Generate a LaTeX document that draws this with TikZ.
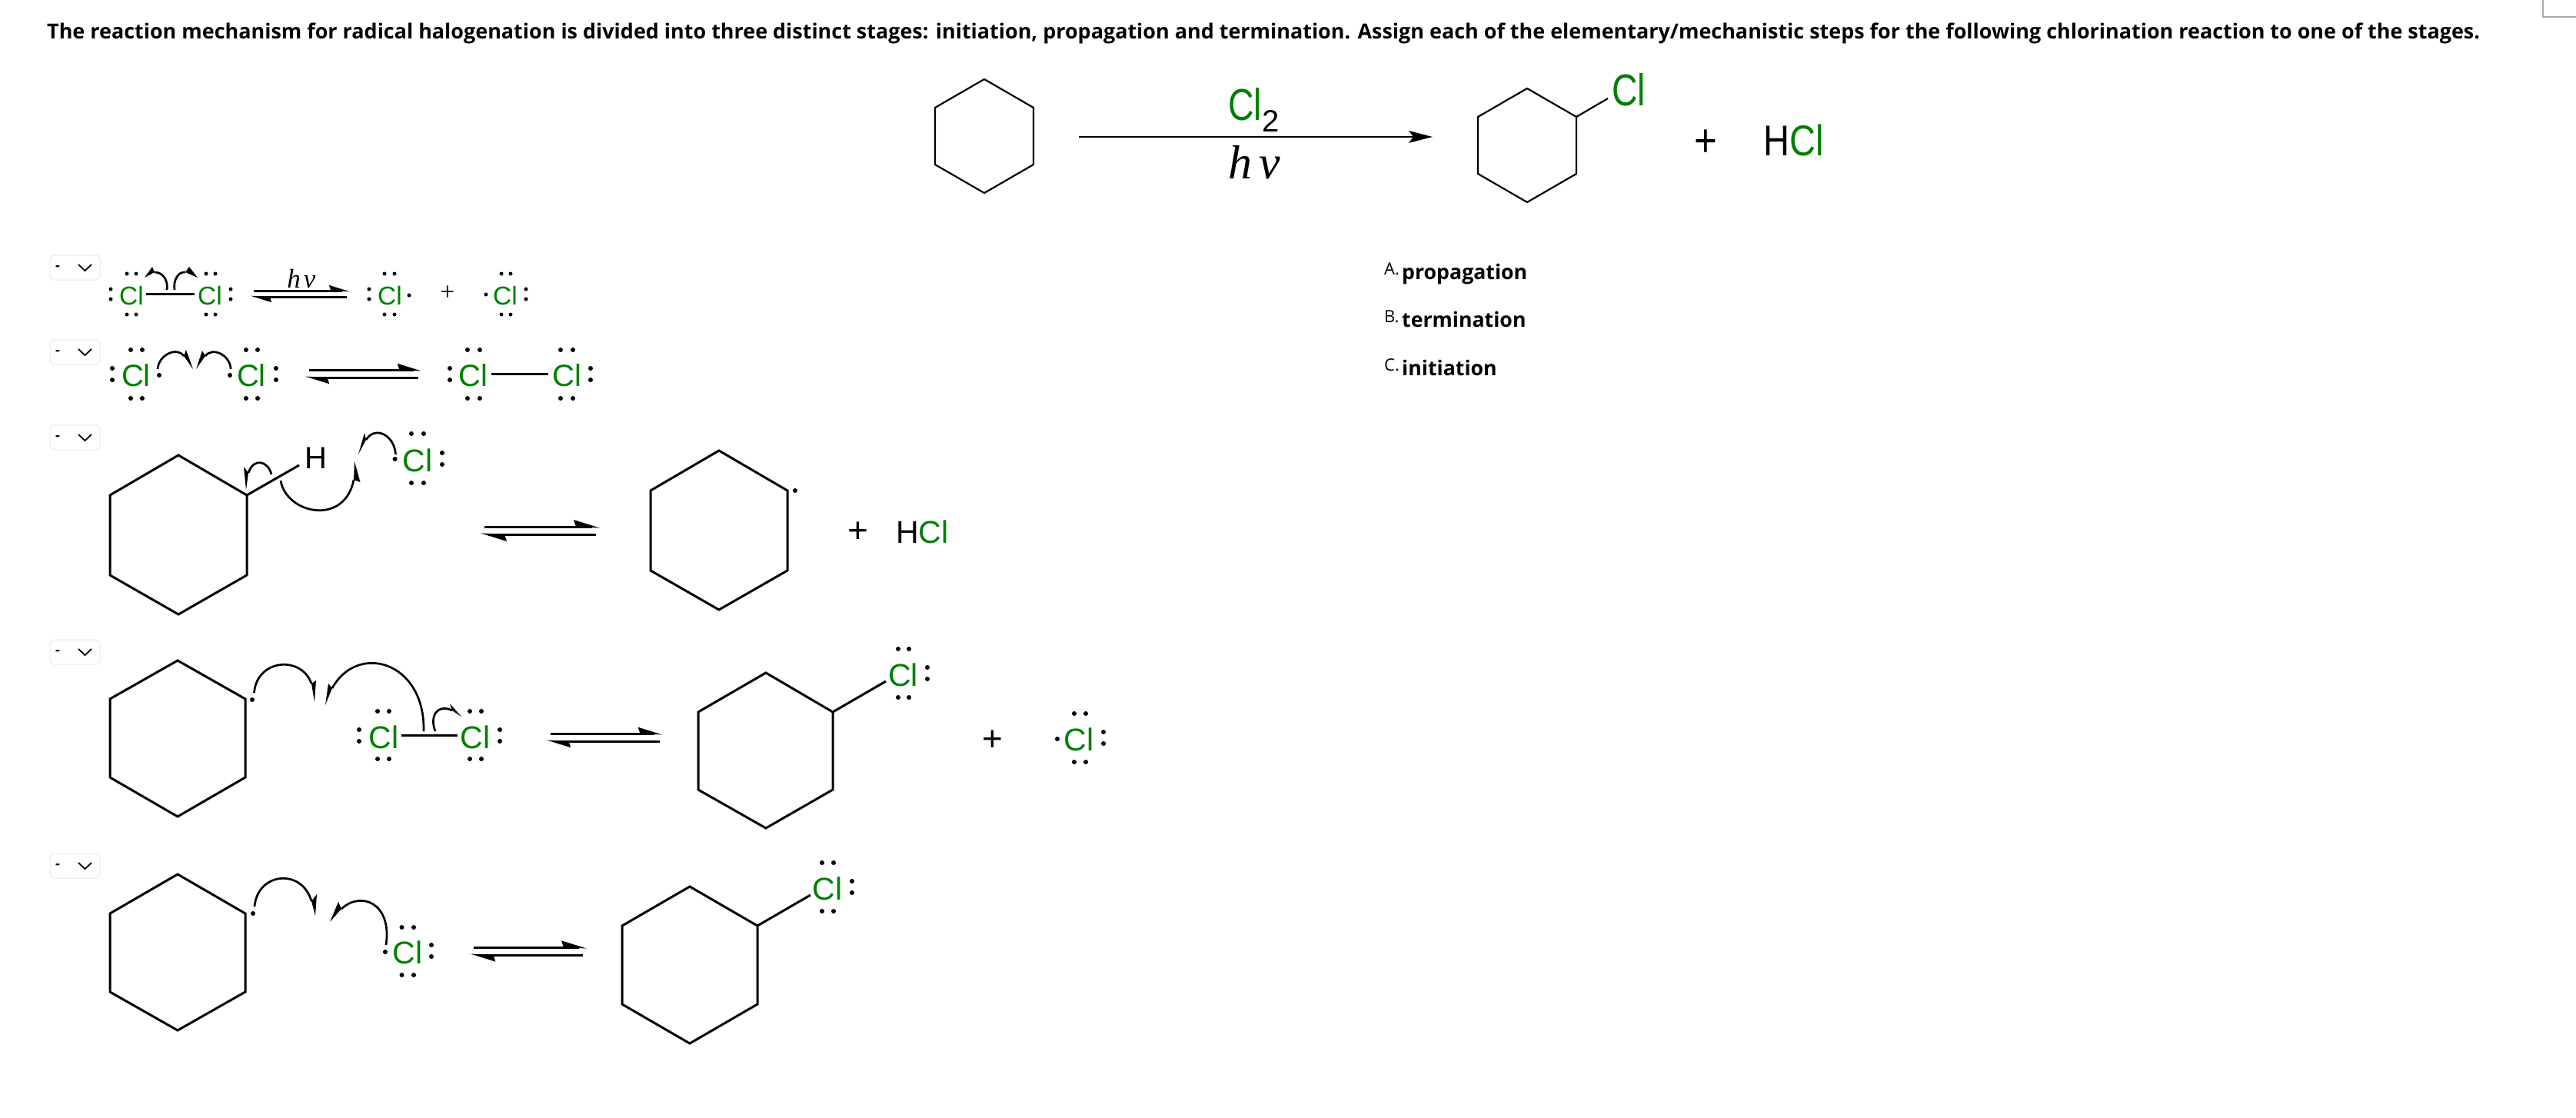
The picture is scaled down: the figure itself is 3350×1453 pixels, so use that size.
\documentclass[tikz,border=0pt]{standalone}
\usepackage{fontspec}
\setmainfont{Liberation Sans}
\newfontfamily\opensans{Open Sans}
\newfontfamily\timesit{Liberation Serif}
\definecolor{chem}{RGB}{0,128,0}
\definecolor{ddline}{RGB}{232,232,232}
\definecolor{cornerline}{RGB}{170,170,170}
\newcommand{\fsz}[1]{\fontsize{#1}{#1}\selectfont}
\tikzset{
  atomtext/.style={anchor=base,inner sep=0pt,text=chem},
  plaintext/.style={anchor=base west,inner sep=0pt,text=black},
  ringline/.style={draw=black,line width=3pt,line join=miter},
  ringthin/.style={draw=black,line width=2.2pt,line join=miter},
  bondline/.style={draw=black,line width=3pt},
  curlyline/.style={draw=black,line width=2.7pt},
  eqline/.style={draw=black,line width=3pt},
  ddbox/.style={draw=ddline,line width=1pt,rounded corners=6pt,minimum width=65pt,minimum height=32pt,inner sep=0pt},
  ddmark/.style={draw=black,line width=1.8pt}
}
% Cl atom: name, x centre, baseline, font size
\newcommand{\clatom}[4]{\node[atomtext] (#1) at (#2,#3) {\fsz{#4}Cl};}
% electron dots: radius, list of points
\newcommand{\eldots}[2]{\foreach \p in {#2} \fill[black] \p circle (#1);}
% ring: style, name, then six vertices
\newcommand{\ring}[8]{%
  \coordinate (#2-t) at #3; \coordinate (#2-ur) at #4; \coordinate (#2-lr) at #5;
  \coordinate (#2-b) at #6; \coordinate (#2-ll) at #7; \coordinate (#2-ul) at #8;
  \draw[#1] (#2-t)--(#2-ur)--(#2-lr)--(#2-b)--(#2-ll)--(#2-ul)--cycle;}
% equilibrium: name, top x1 x2 y, bottom x1 x2 y, head scale
\newcommand{\eqarrow}[8]{%
  \coordinate (#1-a) at (#2,#4); \coordinate (#1-b) at (#3,#4);
  \coordinate (#1-c) at (#6,#7); \coordinate (#1-d) at (#5,#7);
  \draw[eqline] (#1-a) -- ([xshift=-10pt]#1-b);
  \draw[eqline] (#1-c) -- ([xshift=10pt]#1-d);
  \fill[black,shift={(#1-b)},scale=#8] (0,1.6)--(-34,-9)--(-31,0)--cycle;
  \fill[black,shift={(#1-d)},scale=#8] (0,-1.6)--(34,9)--(31,0)--cycle;}
% fishhook: name, start, c1, c2, notch, barb, tip
\newcommand{\fishhook}[7]{%
  \coordinate (#1-s) at #2; \coordinate (#1-n) at #5;
  \coordinate (#1-h) at #6; \coordinate (#1-t) at #7;
  \draw[curlyline] (#1-s) .. controls #3 and #4 .. (#1-n);
  \fill[black] (#1-t)--(#1-h)--(#1-n)--cycle;}
% dropdown: name, top y
\newcommand{\dropdown}[2]{%
  \node[ddbox] (#1) at (97.5,#2+16) {};
  \node[plaintext,anchor=center] (#1-dash) at (75,#2+17) {\opensans\bfseries\fsz{18}-};
  \coordinate (#1-l) at (102,#2+12); \coordinate (#1-m) at (110.5,#2+20); \coordinate (#1-r) at (119,#2+12);
  \draw[ddmark] (#1-l)--(#1-m)--(#1-r);}
\begin{document}
\begin{tikzpicture}[x=1pt,y=-1pt]
\useasboundingbox (0,0) rectangle (3350,1453);
\fill[white] (0,0) rectangle (3350,1453);

% corner box
\coordinate (ca) at (3307,0); \coordinate (cb) at (3307,22); \coordinate (cc) at (3350,22);
\draw[cornerline,line width=1.5pt] (ca)--(cb)--(cc);

% title
\node[plaintext] (title) at (61,51) {\opensans\bfseries\fsz{26.94}The reaction mechanism for radical halogenation is divided into three distinct stages: initiation, propagation and termination. Assign each of the elementary/mechanistic steps for the following chlorination reaction to one of the stages.};

% overall reaction
\ring{ringthin}{top1}{(1280,103)}{(1344,140)}{(1344,214)}{(1280,251)}{(1216,214)}{(1216,140)}
\coordinate (ov-a) at (1403,178); \coordinate (ov-b) at (1863,178);
\draw[eqline,line width=2.7pt] (ov-a) -- ([xshift=-25pt]ov-b);
\fill[black,shift={(ov-b)}] (0,0)--(-31,-8)--(-25,0)--(-31,8)--cycle;
\node[plaintext,text=chem] (ovcl) at (1597,156) {\fsz{58}\scalebox{.8}[1]{Cl}\raisebox{-16pt}{\color{black}\fsz{40}2}};
\node[plaintext,anchor=base] (ovhv) at (1631,232) {\timesit\itshape\fsz{62}h\kern9ptν};
\ring{ringthin}{top2}{(1986,115)}{(2050,152)}{(2050,226)}{(1986,263)}{(1922,226)}{(1922,152)}
\coordinate (topb) at (2091,128);
\draw[ringthin] (top2-ur)--(topb);
\node[atomtext] (topcl) at (2118,138) {\fsz{58}\scalebox{.8}[1]{Cl}};
\node[plaintext,anchor=base] (topplus) at (2218,203) {\fsz{60}\scalebox{.85}[1]{+}};
\node[plaintext] (tophcl) at (2293,202) {\fsz{56}\scalebox{.84}[1]{H\textcolor{chem}{Cl}}};

% options
\node[plaintext] (la) at (1800,357) {\opensans\fsz{22}A.};
\node[plaintext] (oa) at (1823,363) {\opensans\bfseries\fsz{26.7}propagation};
\node[plaintext] (lb) at (1800,419) {\opensans\fsz{22}B.};
\node[plaintext] (ob) at (1823,425) {\opensans\bfseries\fsz{26.7}termination};
\node[plaintext] (lc) at (1800,482) {\opensans\fsz{22}C.};
\node[plaintext] (oc) at (1823,488) {\opensans\bfseries\fsz{26.7}initiation};

% dropdowns
\dropdown{dd1}{332}
\dropdown{dd2}{442}
\dropdown{dd3}{553}
\dropdown{dd4}{832}
\dropdown{dd5}{1110}

% ---------- row 1
\clatom{r1a}{171}{396}{33.5}
\clatom{r1b}{273}{396}{33.5}
\coordinate (r1ba) at (190,382); \coordinate (r1bb) at (253,382);
\draw[bondline] (r1ba)--(r1bb);
\eldots{2.5}{(144,376),(144,389),(165,356),(177,356),(165,409),(177,409),(268,356),(280,356),(268,409),(280,409),(300,376),(300,389)}
\fishhook{r1f}{(217,377)}{(219,365)}{(212,354)}{(201,354)}{(198,347)}{(188,361)}
\fishhook{r1g}{(227,377)}{(225,364)}{(232,353)}{(241,354)}{(246,347)}{(257,361)}
\eqarrow{r1e}{330}{455}{378}{326}{451}{386}{.8}
\node[plaintext,anchor=base] (r1hv) at (392,374) {\timesit\itshape\fsz{35}h\kern4ptν};
\clatom{r1c}{507}{396}{33.5}
\eldots{2.5}{(480,376),(480,389),(500,356),(513,356),(500,409),(513,409),(532,384)}
\node[plaintext,anchor=base] (r1p) at (582,390) {\timesit\fsz{33}+};
\clatom{r1d}{657}{396}{33.5}
\eldots{2.5}{(632,383),(652,356),(664,356),(652,409),(664,409),(684,376),(684,389)}

% ---------- row 2
\clatom{r2a}{177}{502}{40}
\clatom{r2b}{327}{502}{40}
\eldots{3}{(146,479),(146,494),(170,455),(185,455),(170,518),(185,518),(207,488),(299,488),(320,455),(335,455),(320,518),(335,518),(359,479),(359,494)}
\fishhook{r2f}{(205,480)}{(206,462)}{(230,450)}{(239,463)}{(242,455)}{(251,480)}
\fishhook{r2g}{(300,480)}{(300,463)}{(277,450)}{(267,463)}{(263,456)}{(255,480)}
\eqarrow{r2e}{402}{548}{481}{397}{544}{491}{.92}
\clatom{r2c}{615}{502}{40}
\clatom{r2d}{737}{502}{40}
\coordinate (r2ba) at (639,486); \coordinate (r2bb) at (713,486);
\draw[bondline] (r2ba)--(r2bb);
\eldots{3}{(585,479),(585,494),(608,455),(624,455),(608,518),(624,518),(729,455),(745,455),(729,518),(745,518),(768,479),(768,494)}

% ---------- row 3
\ring{ringline}{r3r}{(232,592)}{(321,644)}{(321,748)}{(232,799)}{(143,748)}{(143,644)}
\coordinate (r3bh) at (389,605);
\draw[bondline] (r3r-ur)--(r3bh);
\node[plaintext,anchor=base] (r3h) at (411,609) {\fsz{40}H};
\fishhook{r3f}{(353,617)}{(349,600)}{(330,594)}{(323,615)}{(317,607)}{(320,637)}
\fishhook{r3g}{(365,625)}{(372,668)}{(448,685)}{(460,624)}{(468.5,627)}{(461,600)}
\fishhook{r3i}{(514.5,591)}{(513,566)}{(488,553)}{(476,572)}{(474,563)}{(466,591)}
\clatom{r3a}{543}{613}{41}
\eldots{3}{(513.6,597),(535,564),(551,564),(535,628),(551,628),(575,589),(575,604)}
\eqarrow{r3e}{630}{780}{685}{625}{775}{695}{1}
\ring{ringline}{r3p}{(935,586)}{(1024,638)}{(1024,742)}{(935,793)}{(846,742)}{(846,638)}
\eldots{3}{(1034,638)}
\node[plaintext,anchor=base] (r3plus) at (1116,705) {\fsz{46}+};
\node[plaintext] (r3hcl) at (1165,706) {\fsz{41}H\textcolor{chem}{Cl}};

% ---------- row 4
\ring{ringline}{r4r}{(231,859)}{(319,909)}{(319,1011)}{(231,1062)}{(143,1011)}{(143,909)}
\eldots{3}{(328,910)}
\fishhook{r4f}{(330.5,901)}{(334,857)}{(392,852)}{(405,889)}{(411,885)}{(409,913)}
\fishhook{r4g}{(551,951)}{(553,860)}{(465,835)}{(432,895)}{(427,889)}{(423,917)}
\clatom{r4a}{499}{973}{41}
\clatom{r4b}{618}{973}{41}
\coordinate (r4ba) at (522,956); \coordinate (r4bb) at (595,956);
\draw[bondline] (r4ba)--(r4bb);
\eldots{3}{(467,949),(467,964),(491,925),(506,925),(491,987),(506,987),(611,925),(626,925),(611,987),(626,987),(650,949),(650,964)}
\fishhook{r4h}{(566,951)}{(558,930)}{(570,915)}{(588,924)}{(585,915)}{(600,932)}
\eqarrow{r4e}{716}{861}{954}{711}{857.5}{964}{.92}
\ring{ringline}{r4p}{(996,875)}{(1083,926)}{(1083,1027)}{(996,1077)}{(908,1027)}{(908,926)}
\coordinate (r4bp) at (1152,886);
\draw[bondline] (r4p-ur)--(r4bp);
\clatom{r4c}{1174.5}{892}{41}
\eldots{3}{(1168,844),(1182,844),(1168,907),(1182,907),(1206,868),(1206,883)}
\node[plaintext,anchor=base] (r4plus) at (1291,976) {\fsz{46}+};
\clatom{r4d}{1403}{976}{41}
\eldots{3}{(1375,961),(1397,928),(1412,928),(1397,991),(1412,991),(1435,952),(1435,967)}

% ---------- row 5
\ring{ringline}{r5r}{(231,1137)}{(319,1188)}{(319,1290)}{(231,1340)}{(143,1290)}{(143,1188)}
\eldots{3}{(329,1188)}
\fishhook{r5f}{(331,1179)}{(335,1134)}{(393,1129)}{(405,1172)}{(412,1163)}{(410,1191)}
\fishhook{r5g}{(502,1229)}{(510,1175)}{(470,1158)}{(444,1182)}{(440,1173)}{(429,1199)}
\clatom{r5a}{530}{1253}{41}
\eldots{3}{(501,1238),(522.5,1206),(538,1206),(522.5,1268),(538,1268),(561,1229),(561,1244)}
\eqarrow{r5e}{616}{763}{1232}{611.5}{758}{1242}{.97}
\ring{ringline}{r5p}{(897,1153)}{(985,1204)}{(985,1306)}{(897,1357)}{(809,1306)}{(809,1204)}
\coordinate (r5bp) at (1054,1164);
\draw[bondline] (r5p-ur)--(r5bp);
\clatom{r5b}{1076}{1170}{41}
\eldots{3}{(1069,1122),(1084,1122),(1069,1185),(1084,1185),(1108,1146),(1108,1161)}
\end{tikzpicture}
\end{document}
